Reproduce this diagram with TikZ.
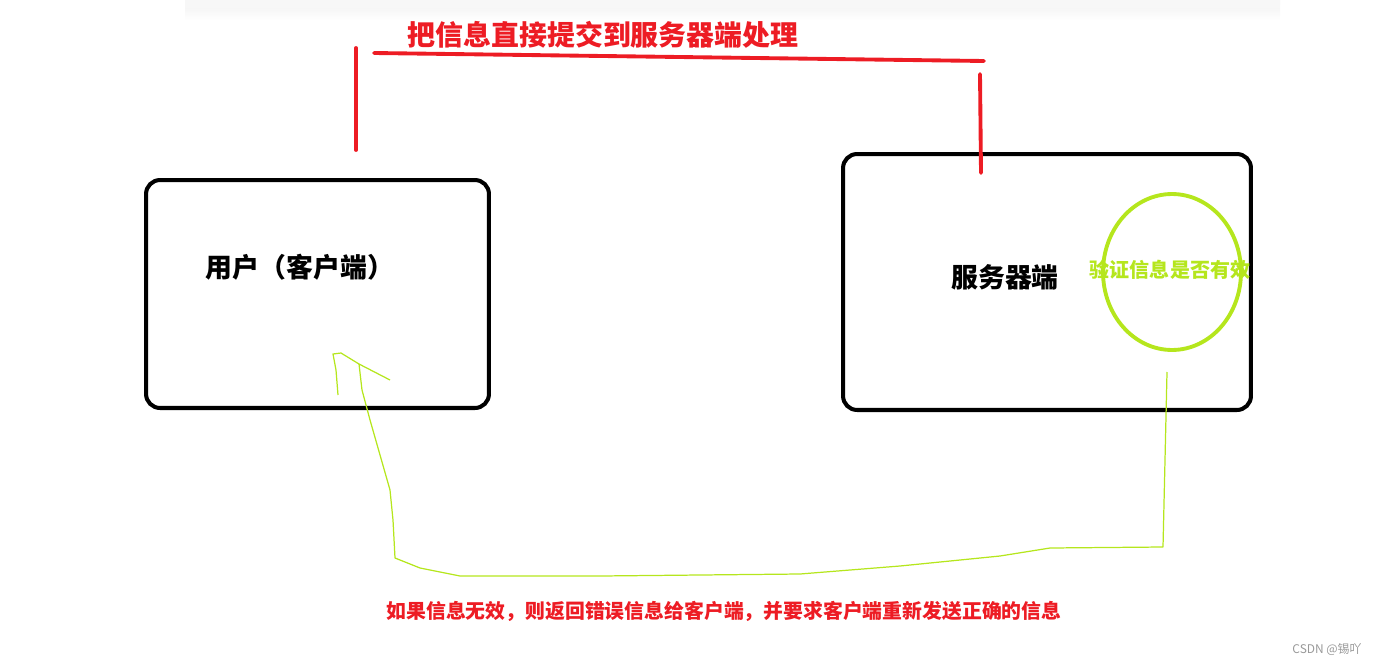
\documentclass[tikz,border=0pt]{standalone}
\usepackage{fontspec}
\usepackage{tikz}
\usetikzlibrary{shapes.geometric}
\newfontfamily\cjk{Noto Sans CJK SC}
\definecolor{paintred}{HTML}{ED1C24}
\definecolor{paintlime}{HTML}{B5E61D}

\begin{document}
\begin{tikzpicture}[x=0.02cm,y=-0.02cm,
    box/.style={draw,line width=2.3pt,rounded corners=8pt,inner sep=0pt},
    boxtext/.style={font=\cjk\bfseries\fontsize{15.3}{18}\selectfont},
    sendline/.style={paintred,line width=2.2pt,line cap=round},
    feedback/.style={paintlime,line width=0.7pt,line join=round}]
        \useasboundingbox (0,0) rectangle (1379,666);
        % window shadow at the top
        \shade[top color=gray!12,bottom color=white] (185,0) rectangle (1280,20);
        \fill[gray!6] (185,0) rectangle (1280,8);
        % the two ends
        \node[box,minimum width=6.86cm,minimum height=4.56cm] (client) at (317.5,294) {};
        \node[boxtext] (clienttext) at (300,267) {用户（客户端）};
        \node[box,minimum width=8.16cm,minimum height=5.12cm] (server) at (1047,282) {};
        \node[boxtext] (servertext) at (1005,277) {服务器端};
        % check inside the server
        \node[ellipse,draw=paintlime,line width=2.2pt,minimum width=2.76cm,minimum height=3.12cm] (check) at (1172,272) {};
        \node[text=paintlime,font=\cjk\bfseries\fontsize{11.4}{13}\selectfont] (checktext) at (1170,270) {验证信息是否有效};
        % submit
        \node[text=paintred,font=\cjk\bfseries\fontsize{15.9}{18}\selectfont] (title) at (603,35) {把信息直接提交到服务器端处理};
        \coordinate (sendA) at (356,150);
        \coordinate (sendB) at (356,48);
        \coordinate (sendC) at (374,53);
        \coordinate (sendD) at (984,61);
        \coordinate (sendE) at (980,74);
        \coordinate (sendF) at (981,173);
        \draw[sendline] (sendA)--(sendB);
        \draw[sendline] (sendC)--(sendD);
        \draw[sendline] (sendE)--(sendF);
        % answer back to the client
        \coordinate (backstart) at (1167,372);
        \coordinate (backtip) at (359,364);
        \draw[feedback] (backstart)--(1165,460)--(1163,547)--(1050,548)--(1000,556)--(900,566)--(800,574)
            --(600,576)--(460,576)--(420,568)--(395,558)--(393,520)--(390,490)--(380,455)--(370,420)--(362,390)--(backtip);
        \draw[feedback] (338,395)--(336,370)--(333,354)--(341,353)--(backtip)--(390,380);
        \node[text=paintred,font=\cjk\bfseries\fontsize{11.3}{13}\selectfont] (backtext) at (724,611) {如果信息无效，则返回错误信息给客户端，并要求客户端重新发送正确的信息};
        % watermark
        \node[text=gray!80,font=\cjk\fontsize{6.8}{8}\selectfont] (mark) at (1327,650) {CSDN @锡吖};
\end{tikzpicture}
\end{document}
